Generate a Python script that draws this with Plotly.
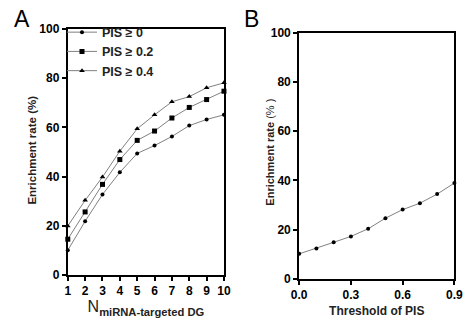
import plotly.graph_objects as go

# Panel A data
n_targeted = [1, 2, 3, 4, 5, 6, 7, 8, 9, 10]
pis_ge_0 = [10.0, 21.8, 32.7, 41.7, 49.4, 52.6, 56.3, 60.7, 63.2, 65.1]
pis_ge_02 = [14.5, 25.6, 36.8, 46.9, 54.7, 58.5, 63.8, 68.1, 71.3, 74.7]
pis_ge_04 = [19.9, 30.3, 39.8, 50.3, 59.4, 65.1, 70.4, 72.5, 76.1, 78.1]
series_names = ["PIS \u2265 0", "PIS \u2265 0.2", "PIS \u2265 0.4"]

# Panel B data
pis_threshold = [0.0, 0.1, 0.2, 0.3, 0.4, 0.5, 0.6, 0.7, 0.8, 0.9]
enrich_b = [10.1, 12.3, 14.8, 17.2, 20.3, 24.6, 28.1, 30.7, 34.4, 38.9]

W, H = 474, 323
font_main = "Liberation Sans, Arial, sans-serif"

fig = go.Figure()
symbols = ["circle", "square", "triangle-up"]
sizes = [4, 5, 5]
for name, ys, sym, sz in zip(series_names, [pis_ge_0, pis_ge_02, pis_ge_04], symbols, sizes):
    fig.add_trace(go.Scatter(
        x=n_targeted, y=ys, name=name, mode="lines+markers",
        line=dict(color="#808080", width=1),
        marker=dict(symbol=sym, size=sz, color="black"),
        cliponaxis=False, xaxis="x", yaxis="y"))

fig.add_trace(go.Scatter(
    x=pis_threshold, y=enrich_b, mode="lines+markers", showlegend=False,
    line=dict(color="#808080", width=1),
    marker=dict(symbol="circle", size=4, color="black"),
    cliponaxis=False, xaxis="x2", yaxis="y2"))

axis_common = dict(showline=True, linecolor="black", linewidth=2, mirror=True,
                   ticks="outside", ticklen=4, tickwidth=1.5, tickcolor="black",
                   showgrid=False, zeroline=False,
                   tickfont=dict(family=font_main, size=12, color="black", weight="bold"))

fig.update_layout(
    width=W, height=H,
    margin=dict(l=0, r=0, t=0, b=0),
    paper_bgcolor="white", plot_bgcolor="white",
    font=dict(family=font_main, color="black"),
    xaxis=dict(domain=[62 / W, 224 / W], range=[1, 10], tickvals=n_targeted,
               title=dict(text="N<sub><b>miRNA-targeted DG</b></sub>",
                          font=dict(size=16, family=font_main, color="#222222"), standoff=3),
               anchor="y", **axis_common),
    yaxis=dict(domain=[1 - 280 / H, 1 - 23 / H], range=[0, 100],
               tickvals=[0, 20, 40, 60, 80, 100],
               anchor="x", **axis_common),
    xaxis2=dict(domain=[302 / W, 463 / W], range=[0, 0.9],
                tickvals=[0.0, 0.3, 0.6, 0.9], ticktext=["0.0", "0.3", "0.6", "0.9"],
                title=dict(text="<b>Threshold of PIS</b>",
                           font=dict(size=12, family=font_main, color="#222222"), standoff=6),
                anchor="y2", **axis_common),
    yaxis2=dict(domain=[1 - 284 / H, 1 - 27 / H], range=[0, 100],
                tickvals=[0, 20, 40, 60, 80, 100],
                anchor="x2", **axis_common),
    legend=dict(x=56 / W, y=1 - 11 / H, xanchor="left", yanchor="top",
                bgcolor="rgba(0,0,0,0)",
                font=dict(size=12.5, family=font_main, weight="bold", color="#222222"),
                tracegroupgap=0, itemwidth=30),
    annotations=[
        dict(text="A", x=4 / W, y=1 + 3 / H, xref="paper", yref="paper",
             xanchor="left", yanchor="top", showarrow=False,
             font=dict(size=23, family=font_main, color="black")),
        dict(text="B", x=243 / W, y=1 + 3 / H, xref="paper", yref="paper",
             xanchor="left", yanchor="top", showarrow=False,
             font=dict(size=23, family=font_main, color="black")),
        dict(text="<b>Enrichment rate (%)</b>", x=25 / W, y=1 - 150 / H,
             xref="paper", yref="paper", xanchor="center", yanchor="middle",
             textangle=-90, showarrow=False,
             font=dict(size=11.5, family=font_main, color="#222222")),
        dict(text="<b>Enrichment rate</b> (% )", x=272 / W, y=1 - 152 / H,
             xref="paper", yref="paper", xanchor="center", yanchor="middle",
             textangle=-90, showarrow=False,
             font=dict(size=11, family=font_main, color="#222222")),
    ],
)

fig.write_html("out.html")
